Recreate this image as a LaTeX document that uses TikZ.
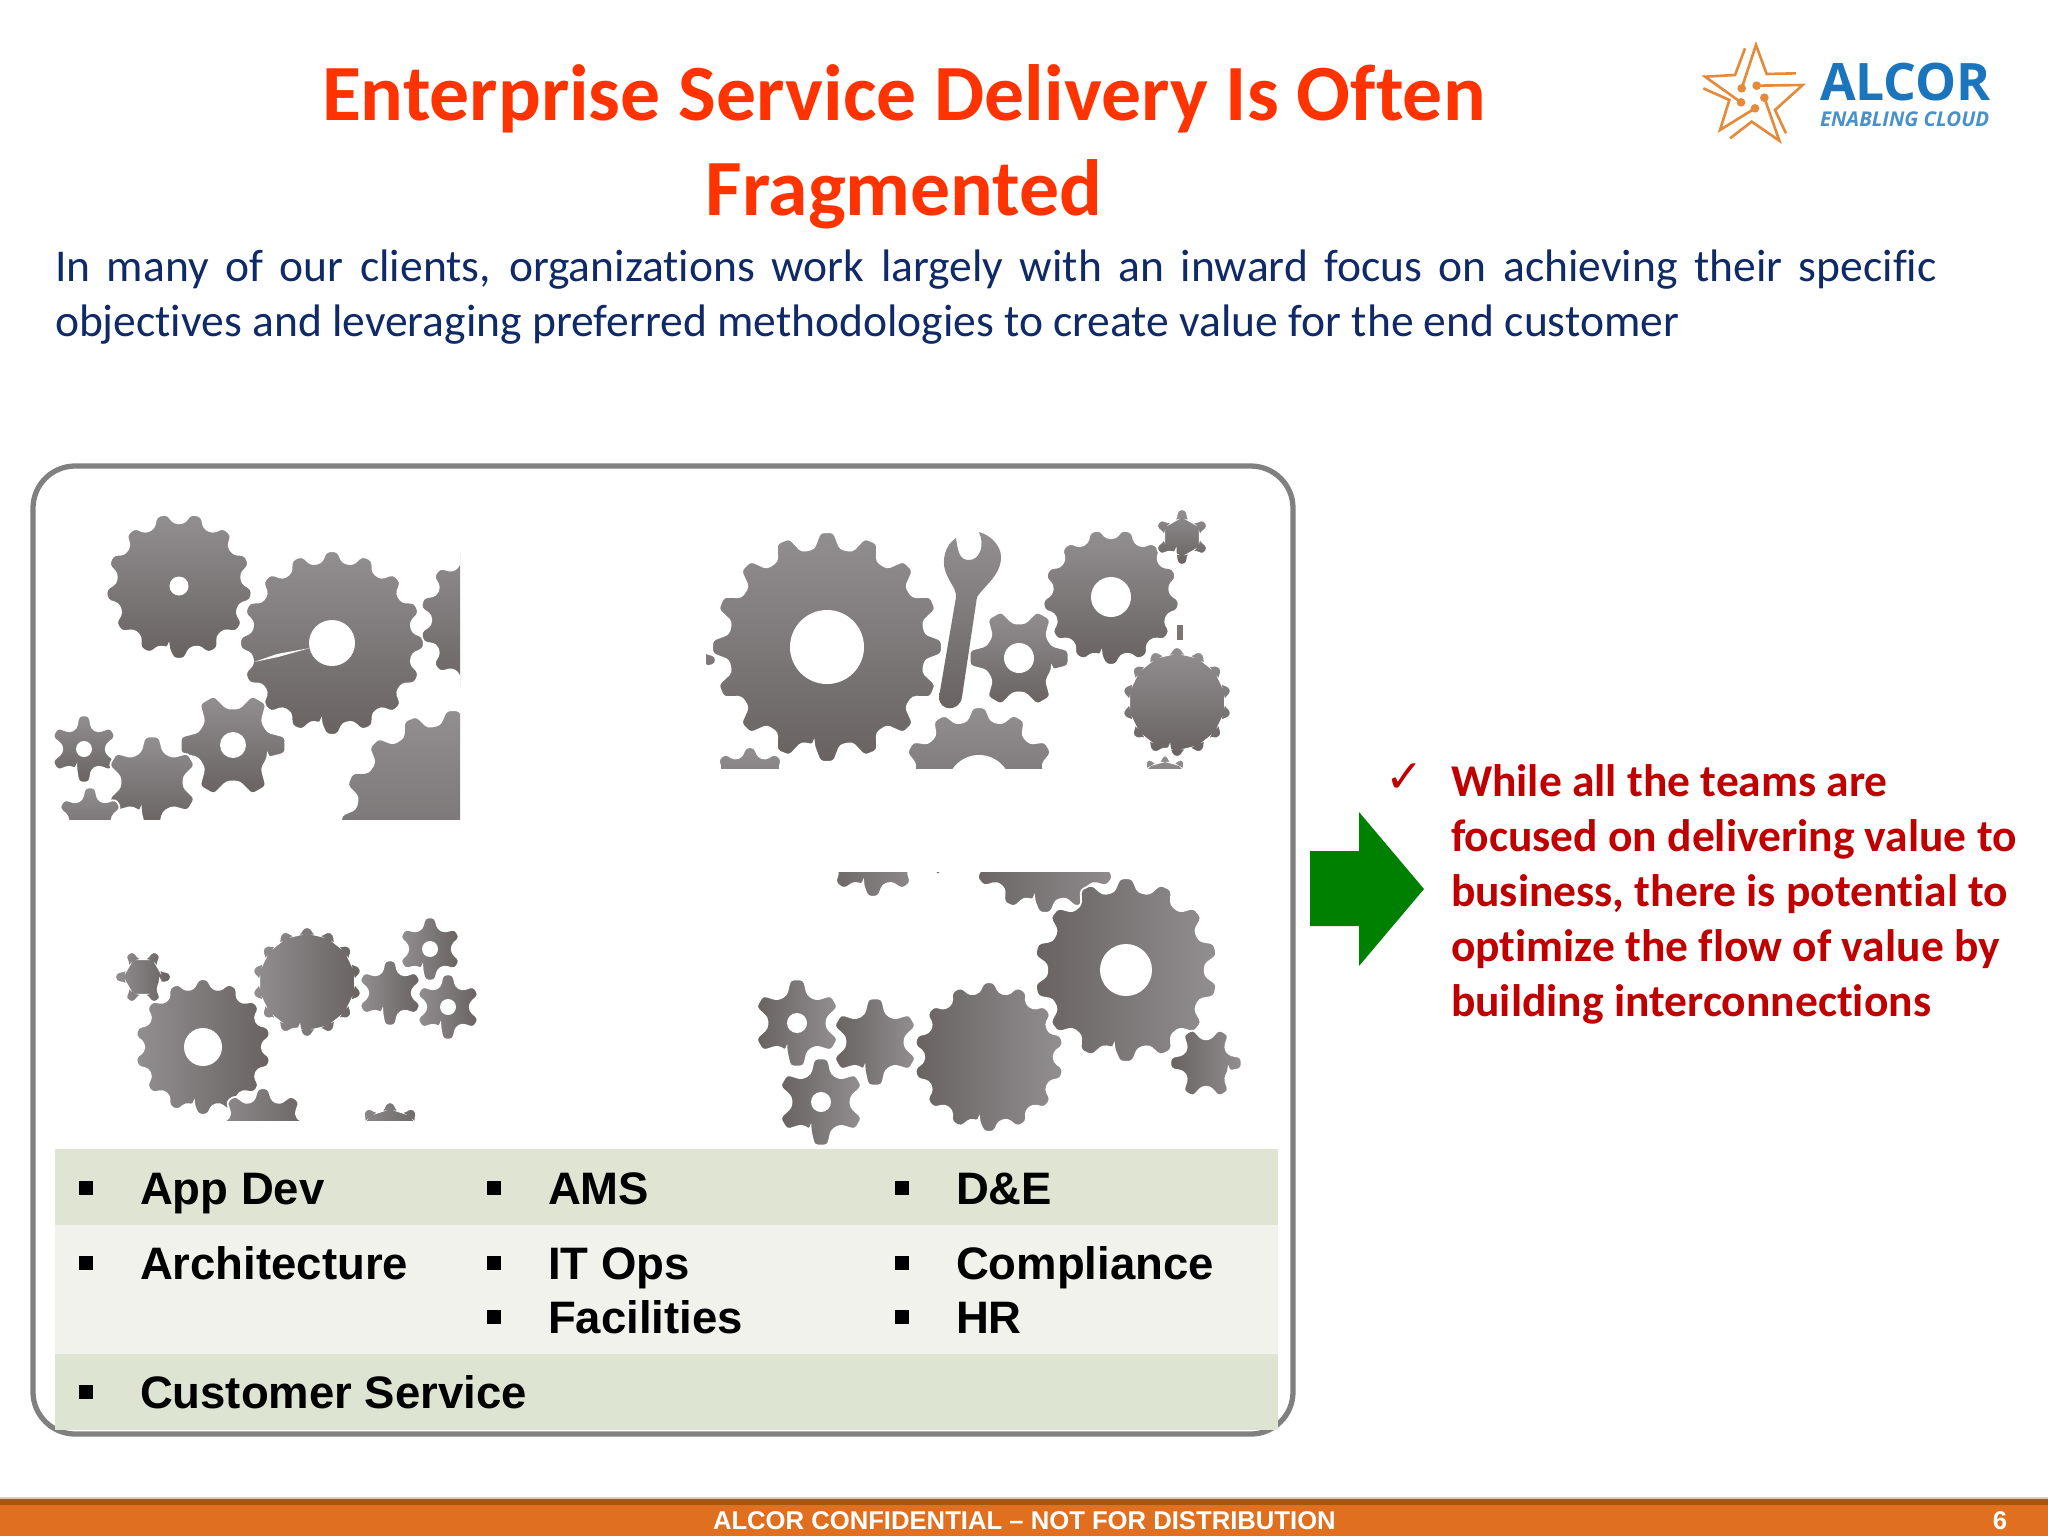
\documentclass[tikz,border=0pt]{standalone}
\usepackage{fontspec}
\usepackage{tikz}
\setmainfont[RawFeature=-liga]{Carlito}
\newfontfamily\listfont{Liberation Sans}
\newfontfamily\logofont{Open Sans}
\newfontfamily\tickfont{DejaVu Sans}

\definecolor{titlered}{HTML}{FF3300}
\definecolor{bodynavy}{HTML}{0F2A66}
\definecolor{notered}{HTML}{C00000}
\definecolor{rowdark}{HTML}{DFE4D3}
\definecolor{rowlight}{HTML}{F0F2EB}
\definecolor{rowgreen}{HTML}{DDE5D2}
\definecolor{footorange}{HTML}{E07020}
\definecolor{footdark}{HTML}{A8560F}
\definecolor{logoorange}{HTML}{E58A3A}
\definecolor{logoblue}{HTML}{1B75BC}
\definecolor{gearpale}{HTML}{928F91}
\definecolor{gearmid}{HTML}{7E7573}
\definecolor{geardeep}{HTML}{686261}

\tikzset{
  plain/.style={inner sep=0pt, outer sep=0pt},
  gearbase/.style={draw=white, line width=1pt, rounded corners=2pt},
  gearv/.style={gearbase, top color=gearpale, middle color=gearmid, bottom color=geardeep},
  gearl/.style={gearbase, left color=gearpale, middle color=gearmid, right color=geardeep},
  gearr/.style={gearbase, left color=geardeep, middle color=gearmid, right color=gearpale},
  bulletbox/.style={fill=black, minimum size=8pt, plain},
  listitem/.style={plain, anchor=base west, font={\listfont\bfseries\fontsize{25.9}{30}\selectfont}},
  logoline/.style={line width=1.5pt, draw=logoorange, line join=miter}
}

% gears: centre, outer radius, root radius, teeth, turn, hole
\newcommand{\gearset}[2]{
  \foreach \cx/\cy/\ro/\ri/\nt/\rt/\ho in {#2} {
    \pgfmathsetmacro\pit{360/\nt}
    \shadedraw[#1, shift={(\cx,\cy)}] ({\rt+0.34*\pit}:\ri)
      \foreach \k [evaluate=\k as \a using \rt+\k*\pit] in {1,...,\nt} {
        -- ({\a-0.34*\pit}:\ri) -- ({\a-0.15*\pit}:\ro) -- ({\a+0.15*\pit}:\ro) -- ({\a+0.34*\pit}:\ri)
      } -- cycle;
    \fill[white] (\cx,\cy) circle (\ho);
  }
}

\begin{document}
\begin{tikzpicture}[x=0.02cm, y=-0.02cm]
\useasboundingbox (0,0) rectangle (2048,1536);
\fill[white] (0,0) rectangle (2048,1536);

% heading
\node[plain, anchor=north, align=center, text=titlered, font={\bfseries\fontsize{45.4}{54}\selectfont}] (title) at (904,65)
  {Enterprise Service Delivery Is Often\\Fragmented};
\node[plain, anchor=north west, text width=1882*0.02cm, align=justify, text=bodynavy, font={\fontsize{25.92}{31.3}\selectfont}] (intro) at (55,250)
  {In many of our clients, organizations work largely with an inward focus on achieving their specific\linebreak objectives and leveraging preferred methodologies to create value for the end customer};

% logo
\begin{scope}[shift={(1660,20)}, x=0.00667cm, y=-0.00667cm]
\draw[logoline] (255,85) -- (225,165) -- (135,170) -- (243,247);
\draw[logoline] (245,205) -- (288,75) -- (320,162) -- (408,160);
\draw[logoline] (290,197) -- (428,195) -- (345,270) -- (378,340);
\draw[logoline] (313,233) -- (358,362) -- (275,305) -- (210,355);
\draw[logoline] (285,265) -- (180,330) -- (208,240) -- (130,205);
\foreach \dx/\dy in {245/205,290/197,313/233,243/247,285/265}
  \fill[logoorange] (\dx,\dy) circle (13);
\end{scope}
\node[plain, anchor=base west, text=logoblue, font={\logofont\bfseries\fontsize{29.4}{30}\selectfont}] (alcor) at (1820,100) {ALCOR};
\node[plain, anchor=base west, text=logoblue!80, font={\logofont\bfseries\itshape\fontsize{11.6}{14}\selectfont}] (tagline) at (1820,126) {ENABLING CLOUD};

% panel
\draw[draw=black!50, line width=3pt, fill=white, rounded corners=24pt] (33,466) rectangle (1293,1434);

% gear pictures
\begin{scope}
\clip (50,485) rectangle (460,819);
\gearset{gearv}{179/586/73/63/13/90/9.5, 332/643/92/81/16/90/23, 233/745/53/37/6/0/13,
  84/749/34/22/6/90/8, 152/782/46/32/6/90/0, 90/820/33/22/6/90/0, 453/822/112/98/16/90/0, 497/620/77/66/14/90/0}
\fill[white] (310,648) -- (277,654) -- (254,662) -- (278,657) -- cycle;
\end{scope}

\begin{scope}
\clip (706,509) rectangle (1245,768);
\gearset{gearv}{827/647/115/99/16/90/37, 680/660/36/26/8/0/0, 1019/658/50/35/6/0/15, 1111/597/68/59/13/90/20,
  1182/537/28/18/6/90/0, 1177/702/55/48/14/90/0, 979/787/80/67/12/90/32, 750/795/48/39/10/90/0, 1165/790/35/28/12/90/0}
\shade[top color=gearpale, bottom color=geardeep] (956,538) .. controls (945,545) and (942,560) .. (945,570) .. controls (950,585) and (956,587) .. (956,597)
  -- (939,697) .. controls (939,712) and (960,712) .. (962,697) -- (977,597) .. controls (985,585) and (1001,575) .. (1001,557)
  .. controls (1001,545) and (990,535) .. (979,532) .. controls (985,545) and (980,560) .. (969,560)
  .. controls (960,560) and (958,553) .. (956,538) -- cycle;
\fill[gearmid] (1177,625) rectangle (1183,640);
\end{scope}

\begin{scope}
\clip (112,913) rectangle (550,1120);
\gearset{gearl}{203/1047/68/59/14/90/19, 307/982/55/48/14/90/0, 390/993/33/22/6/90/0, 430/949/32/22/6/90/8,
  448/1007/33/22/6/90/8, 143/977/28/18/6/0/0, 263/1143/55/43/10/90/0, 390/1143/41/33/10/90/0}
\end{scope}

\begin{scope}
\clip (706,872) rectangle (1245,1150);
\gearset{gearr}{873/840/57/46/10/90/0, 938/860/15/10/6/90/0, 1045/830/83/71/14/90/0, 1126/970/92/79/14/90/26, 989/1057/75/65/14/90/0,
  797/1023/44/30/6/90/10, 875/1042/44/30/6/90/0, 821/1102/44/30/6/90/10, 1206/1063/36/24/6/0/0}
\end{scope}

% list rows
\fill[rowdark] (55,1149) rectangle (1278,1225);
\fill[rowlight] (55,1225) rectangle (1278,1354);
\fill[rowgreen] (55,1354) rectangle (1278,1430);

\foreach \n/\tx/\ty/\lab in {appdev/140/1204/App Dev, ams/548/1204/AMS, dande/956/1204/D\&E,
  arch/140/1279/Architecture, itops/548/1279/IT Ops, compl/956/1279/Compliance,
  facil/548/1333/Facilities, hres/956/1333/HR, custs/140/1408/Customer Service} {
  \node[bulletbox] (bul\n) at (\tx-54,\ty-16) {};
  \node[listitem] (item\n) at (\tx,\ty) {\lab};
}

% arrow and note
\fill[green!50!black] (1310,851) -- (1359,851) -- (1359,812) -- (1424,889) -- (1359,966) -- (1359,926) -- (1310,926) -- cycle;
\node[plain, text=notered, font={\tickfont\fontsize{26}{28}\selectfont}] (tick) at (1405,778) {✓};
\node[plain, anchor=north west, align=left, text=notered, font={\bfseries\fontsize{25.9}{31.3}\selectfont}] (note) at (1451,765)
  {While all the teams are\\focused on delivering value to\\business, there is potential to\\optimize the flow of value by\\building interconnections};

% footer
\fill[footorange] (0,1500) rectangle (2048,1536);
\fill[footdark] (0,1499) rectangle (2048,1505);
\fill[footorange!40] (0,1497) rectangle (2048,1499);
\node[plain, anchor=base west, text=white, font={\listfont\bfseries\fontsize{14.6}{16}\selectfont}] (confid) at (713,1529) {ALCOR CONFIDENTIAL – NOT FOR DISTRIBUTION};
\node[plain, anchor=base, text=white, font={\listfont\bfseries\fontsize{14.6}{16}\selectfont}] (pageno) at (2000,1529) {6};
\end{tikzpicture}
\end{document}
